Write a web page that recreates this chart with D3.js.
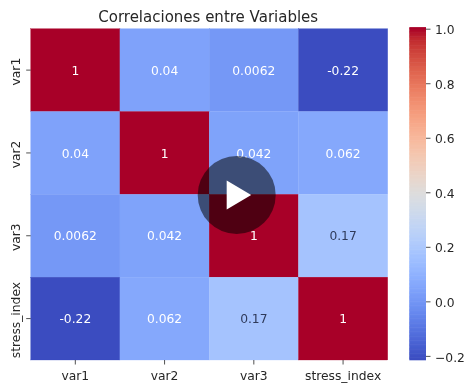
<!DOCTYPE html>
<html><head><meta charset="utf-8">
<script src="https://cdn.jsdelivr.net/npm/d3@7"></script>
<style>html,body{margin:0;padding:0;background:#fff}svg{display:block}text{font-family:"DejaVu Sans",sans-serif}</style>
</head><body><svg id="c" width="474" height="391"></svg>
<script>
const titleText = "Correlaciones entre Variables";
const variables = ["var1","var2","var3","stress_index"];
const row1 = [1, 0.04, 0.0062, -0.2151];
const row2 = [0.04, 1, 0.042, 0.062];
const row3 = [0.0062, 0.042, 1, 0.17];
const row4 = [-0.2151, 0.062, 0.17, 1];
const matrix = [row1,row2,row3,row4];
const colorbarTicks = [-0.2,0,0.2,0.4,0.6,0.8,1.0];
const cwR=[0.2298,0.2662,0.3039,0.3428,0.3830,0.4244,0.4667,0.5096,0.5530,0.5963,0.6392,0.6813,0.7222,0.7615,0.7987,0.8335,0.8654,0.8978,0.9241,0.9445,0.9589,0.9673,0.9700,0.9668,0.9580,0.9437,0.9239,0.8990,0.8692,0.8346,0.7956,0.7525,0.6600];
const cwG=[0.2987,0.3531,0.4065,0.4588,0.5094,0.5581,0.6046,0.6483,0.6889,0.7261,0.7596,0.7890,0.8140,0.8343,0.8498,0.8602,0.8654,0.8489,0.8274,0.8009,0.7698,0.7341,0.6943,0.6504,0.6028,0.5518,0.4973,0.4396,0.3783,0.3129,0.2413,0.1572,0.0000];
const cwB=[0.7537,0.8015,0.8450,0.8837,0.9174,0.9456,0.9682,0.9848,0.9954,0.9998,0.9982,0.9904,0.9766,0.9569,0.9317,0.9011,0.8654,0.8209,0.7745,0.7267,0.6780,0.6288,0.5794,0.5303,0.4818,0.4342,0.3880,0.3432,0.3003,0.2593,0.2205,0.1841,0.1550];

const L=30.7,R=387.7,T=28.7,B=360,CL=409.3,CR=426;
const svg=d3.select("#c");
const chart=svg.append("g").style("filter","blur(0.35px)");
const ink="#262626";
const vals=matrix.flat();
const vmin=d3.min(vals), vmax=d3.max(vals);
const toT=d3.scaleLinear().domain([vmin,vmax]).range([0,1]);
const stopsT=cwR.map((_,i)=>i/(cwR.length-1));
const cmap=d3.scaleLinear().domain(stopsT).range(cwR.map((r,i)=>d3.rgb(r*255,cwG[i]*255,cwB[i]*255))).interpolate(d3.interpolateRgb);
const color=v=>cmap(toT(v));
const x=d3.scaleBand().domain(variables).range([L,R]);
const y=d3.scaleBand().domain(variables).range([T,B]);
const cells=matrix.flatMap((row,i)=>row.map((v,j)=>({r:variables[i],c:variables[j],v})));
chart.append("g").selectAll("rect").data(cells).join("rect")
  .attr("x",d=>x(d.c)).attr("y",d=>y(d.r)).attr("width",x.bandwidth()).attr("height",y.bandwidth())
  .attr("fill",d=>color(d.v)).attr("stroke",d=>color(d.v)).attr("stroke-width",0.3);
const lum=v=>{const c=d3.rgb(color(v));const f=u=>{u/=255;return u<=.03928?u/12.92:Math.pow((u+.055)/1.055,2.4)};return .2126*f(c.r)+.7152*f(c.g)+.0722*f(c.b)};
const fmt=d3.format(".2~g");
chart.append("g").selectAll("text").data(cells).join("text")
  .attr("x",d=>x(d.c)+x.bandwidth()/2).attr("y",d=>y(d.r)+y.bandwidth()/2).attr("dy","0.38em")
  .attr("text-anchor","middle").attr("font-size",12.3)
  .attr("fill",d=>lum(d.v)<0.408?"#fff":"#2f3a5a")
  .text(d=>fmt(d.v).replace("−","-"));
const ax=chart.append("g").attr("transform",`translate(0,${B})`).call(d3.axisBottom(x).tickSize(4.5).tickPadding(7));
const ay=chart.append("g").attr("transform",`translate(${L},0)`).call(d3.axisLeft(y).tickSize(4.5).tickPadding(5));
[ax,ay].forEach(g=>{g.select(".domain").remove();g.selectAll("line").attr("stroke",ink).attr("stroke-width",0.8);g.selectAll("text").attr("font-size",12.3).attr("fill",ink).attr("font-family","DejaVu Sans")});
ay.selectAll("text").attr("text-anchor","middle").attr("dy",0).attr("x",0).attr("y",0)
  .attr("transform","translate(-11,1.5) rotate(-90)");
chart.append("text").attr("x",(L+R)/2-1).attr("y",21.5).attr("text-anchor","middle").attr("font-size",15).attr("fill",ink).text(titleText);
const cy=d3.scaleLinear().domain([vmin,vmax]).range([B,T]);
const steps=d3.range(0,256).map(i=>vmin+(vmax-vmin)*i/255);
chart.append("g").selectAll("rect").data(steps).join("rect")
  .attr("x",CL).attr("width",CR-CL).attr("y",d=>cy(d)-(B-T)/256-0.3).attr("height",(B-T)/256+0.6).attr("fill",d=>color(d));
const cax=chart.append("g").attr("transform",`translate(${CR},0)`).call(d3.axisRight(cy).tickValues(colorbarTicks).tickFormat(d3.format(".1f")).tickSize(4.5).tickPadding(4.5));
cax.select(".domain").remove();
cax.selectAll("line").attr("stroke",ink).attr("stroke-width",0.8);
cax.selectAll("text").attr("font-size",12.3).attr("fill",ink).attr("font-family","DejaVu Sans").attr("dy","0.42em");
const ov=svg.append("g").attr("transform","translate(236.7,195)");
ov.append("circle").attr("r",39).attr("fill","#000").attr("fill-opacity",0.53);
ov.append("path").attr("d",d3.line()([[-10,-14.5],[14.5,0],[-10,14.5]])+"Z").attr("fill","#fff");
</script></body></html>
